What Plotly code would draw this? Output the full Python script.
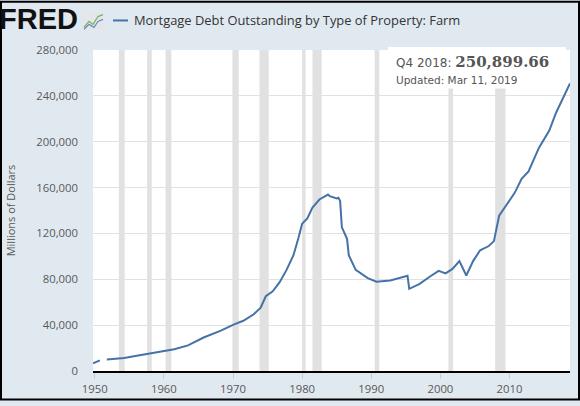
import plotly.graph_objects as go

dates = ['1949-10-01', '1950-10-01', '1951-04-01', '1951-10-01', '1954-04-01',
         '1956-07-01', '1959-01-01', '1961-07-01', '1963-07-01', '1965-10-01',
         '1968-04-01', '1970-01-01', '1971-07-01', '1973-01-01', '1974-01-01',
         '1974-10-01', '1975-10-01', '1976-10-01', '1977-10-01', '1978-10-01',
         '1979-07-01', '1980-01-01', '1980-10-01', '1981-07-01', '1982-07-01',
         '1983-01-01', '1983-10-01', '1984-01-01', '1984-07-01', '1985-01-01',
         '1985-04-01', '1985-07-01', '1985-10-01', '1986-07-01', '1986-10-01',
         '1987-10-01', '1989-07-01', '1990-10-01', '1992-10-01', '1994-01-01',
         '1995-04-01', '1995-07-01', '1997-01-01', '1998-07-01', '1999-10-01',
         '2000-10-01', '2001-10-01', '2002-10-01', '2003-10-01', '2004-10-01',
         '2005-10-01', '2007-01-01', '2007-10-01', '2008-07-01', '2009-10-01',
         '2010-10-01', '2011-10-01', '2012-10-01', '2014-04-01', '2015-10-01',
         '2016-10-01', '2018-10-01']
debt = [6700, 9300, None, 10000, 11400,
        13700, 16000, 18900, 22300, 29200,
        35200, 40300, 43800, 49500, 55200,
        65200, 69500, 77500, 88200, 101000,
        116700, 128500, 133000, 142500, 149600,
        151100, 153900, 152500, 151700, 150500,
        151100, 148200, 125300, 115300, 101000,
        88200, 81000, 77900, 79000, 80800,
        83000, 71700, 76000, 82400, 87300,
        85200, 89000, 95900, 83300, 96100,
        105300, 109000, 113300, 135400, 146800,
        155400, 167600, 174000, 194600, 209700,
        225500, 250900]

recessions = [('1953-07-01', '1954-05-01'), ('1957-08-01', '1958-04-01'),
              ('1960-04-01', '1961-02-01'), ('1969-12-01', '1970-11-01'),
              ('1973-11-01', '1975-03-01'), ('1980-01-01', '1980-07-01'),
              ('1981-07-01', '1982-11-01'), ('1990-07-01', '1991-03-01'),
              ('2001-03-01', '2001-11-01'), ('2007-12-01', '2009-06-01')]

title = 'Mortgage Debt Outstanding by Type of Property: Farm'
last_label = 'Q4 2018: '
last_value = '250,899.66'
updated = 'Updated: Mar 11, 2019'

W, H = 580, 406
PL, PR, PT, PB = 93, 570, 50, 376


def px_x(p):
    return (p - PL) / (PR - PL)


def px_y(p):
    return (PB - p) / (PB - PT)


fig = go.Figure(go.Scatter(x=dates, y=debt, mode='lines',
                           line={'color': '#4572a7', 'width': 2},
                           connectgaps=False, showlegend=False))

shapes = []
for start, end in recessions:
    shapes.append(dict(type='rect', xref='x', yref='paper', x0=start, x1=end,
                       y0=0, y1=1, fillcolor='#e1e1e1', line={'width': 0},
                       layer='below'))

# white box behind the latest value note
shapes.append(dict(type='rect', xref='paper', yref='paper',
                   x0=px_x(388), x1=px_x(566), y0=px_y(89), y1=px_y(47),
                   fillcolor='white', line={'width': 0}, layer='above'))
# legend sample line
shapes.append(dict(type='line', xref='paper', yref='paper',
                   x0=px_x(113), x1=px_x(128), y0=px_y(20), y1=px_y(20),
                   line={'color': '#4572a7', 'width': 2}))
# small chart icon next to the logo
shapes.append(dict(type='rect', xref='paper', yref='paper',
                   x0=px_x(82), x1=px_x(104), y0=px_y(30), y1=px_y(11),
                   fillcolor='#e4e7ea', line={'width': 0}))
shapes.append(dict(type='path', xref='paper', yref='paper',
                   path='M {} {} L {} {} L {} {} L {} {} L {} {}'.format(
                       px_x(84), px_y(27), px_x(89), px_y(21), px_x(93), px_y(24),
                       px_x(98), px_y(16), px_x(103), px_y(14)),
                   line={'color': '#7fb069', 'width': 1.3}))
shapes.append(dict(type='path', xref='paper', yref='paper',
                   path='M {} {} L {} {} L {} {} L {} {} L {} {}'.format(
                       px_x(84), px_y(29), px_x(89), px_y(24), px_x(94), px_y(27),
                       px_x(98), px_y(21), px_x(103), px_y(19)),
                   line={'color': '#6a8fc0', 'width': 1.3}))
# black frame around the whole picture
shapes.append(dict(type='rect', xref='paper', yref='paper',
                   x0=px_x(1), x1=px_x(W - 1), y0=px_y(H - 1), y1=px_y(1),
                   line={'color': 'black', 'width': 2}))

annotations = [
    dict(text='<b>FRED</b>', xref='paper', yref='paper', x=px_x(-3), y=px_y(19),
         xanchor='left', yanchor='middle', showarrow=False,
         font={'family': 'Liberation Sans', 'size': 29, 'color': '#111'}),
    dict(text=title, xref='paper', yref='paper', x=px_x(132), y=px_y(20),
         xanchor='left', yanchor='middle', showarrow=False,
         font={'family': 'Open Sans', 'size': 12.9, 'color': '#333'}),
    dict(text=last_label + '<b><span style="font-family:DejaVu Serif;font-size:15px">'
         + last_value + '</span></b>',
         xref='paper', yref='paper', x=px_x(394), y=px_y(62),
         xanchor='left', yanchor='middle', showarrow=False,
         font={'family': 'DejaVu Sans', 'size': 12, 'color': '#555'}),
    dict(text=updated, xref='paper', yref='paper', x=px_x(394), y=px_y(80),
         xanchor='left', yanchor='middle', showarrow=False,
         font={'family': 'DejaVu Sans', 'size': 10.5, 'color': '#555'}),
]

fig.update_layout(
    width=W, height=H,
    margin={'l': PL, 'r': W - PR, 't': PT, 'b': H - PB, 'pad': 0},
    paper_bgcolor='#e1e9f0', plot_bgcolor='white',
    font={'family': 'Open Sans', 'size': 11.3, 'color': '#595959'},
    shapes=shapes, annotations=annotations,
    xaxis={'type': 'date', 'range': ['1949-10-01', '2018-10-01'],
           'tickvals': ['%d-01-01' % y for y in range(1950, 2020, 10)],
           'ticktext': [str(y) for y in range(1950, 2020, 10)],
           'showgrid': False, 'showline': True, 'linecolor': 'black',
           'linewidth': 2, 'ticks': 'outside', 'ticklen': 6,
           'tickcolor': '#cccccc', 'zeroline': False},
    yaxis={'range': [0, 280000], 'tickvals': list(range(0, 280001, 40000)),
           'tickformat': ',d', 'gridcolor': '#e1e1e1', 'zeroline': False,
           'ticks': '', 'ticklabelstandoff': 14,
           'title': {'text': 'Millions of Dollars', 'standoff': 18,
                     'font': {'size': 11}}},
)

fig.write_html("out.html", config={'displayModeBar': False},
               post_script="document.body.style.margin='0';"
                           "document.body.style.padding='0';")
